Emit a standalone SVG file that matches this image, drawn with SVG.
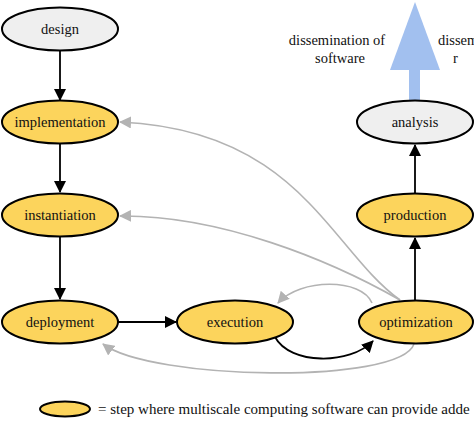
<svg xmlns="http://www.w3.org/2000/svg" width="474" height="422" viewBox="0 0 474 422" font-family="'Liberation Serif', 'Times New Roman', serif">
<defs>
<style>
.n{stroke:#000;stroke-width:2}
.y{fill:#fcd45c}
.g{fill:#efefef}
text{font-family:'Liberation Serif','Times New Roman',serif;font-size:14.5px;fill:#111}
.c{text-anchor:middle}
.k{fill:none;stroke:#000;stroke-width:1.8}
.s{fill:none;stroke:#b3b3b3;stroke-width:1.6}
</style>
<marker id="ab" viewBox="0 0 12 12" refX="11" refY="6" markerWidth="12" markerHeight="12" orient="auto" markerUnits="userSpaceOnUse">
<path d="M0,0 L12,6 L0,12 z" fill="#000"/>
</marker>
<marker id="ag" viewBox="0 0 12 12" refX="11" refY="6" markerWidth="12" markerHeight="12" orient="auto" markerUnits="userSpaceOnUse">
<path d="M0,0 L12,6 L0,12 z" fill="#b3b3b3"/>
</marker>
</defs>
<g id="connectors">
<line class="k" x1="60" y1="51" x2="60" y2="100" marker-end="url(#ab)"/>
<line class="k" x1="60" y1="144" x2="60" y2="192" marker-end="url(#ab)"/>
<line class="k" x1="60" y1="237" x2="60" y2="299" marker-end="url(#ab)"/>
<line class="k" x1="118" y1="322" x2="176" y2="322" marker-end="url(#ab)"/>
<path class="k" d="M275 337 C290 365 350 365 373 341" marker-end="url(#ab)"/>
<line class="k" x1="415" y1="301" x2="415" y2="238" marker-end="url(#ab)"/>
<line class="k" x1="415" y1="193" x2="415" y2="145" marker-end="url(#ab)"/>
<path class="s" d="M400 300 C330 250 300 130 120 122" marker-end="url(#ag)"/>
<path class="s" d="M400 300 C330 260 220 215 120 216" marker-end="url(#ag)"/>
<path class="s" d="M372 303 C362 278 300 278 278 303" marker-end="url(#ag)"/>
<path class="s" d="M414 344 C400 385 150 380 103 344" marker-end="url(#ag)"/>
</g>
<g id="dissemination-arrow">
<rect x="409" y="68" width="11" height="33" fill="#a2c0ef"/>
<polygon points="415,2 390,70 440,70" fill="#a2c0ef"/>
</g>
<g id="labels">
<text class="c" x="337" y="45">dissemination of</text>
<text class="c" x="340" y="63">software</text>
<text x="438" y="45">dissem</text>
<text x="453" y="63">r</text>
</g>
<g id="design"><ellipse class="n g" cx="60" cy="29" rx="58" ry="21.5"/><text class="c" x="60" y="34">design</text></g>
<g id="implementation"><ellipse class="n y" cx="60" cy="122" rx="58" ry="21.5"/><text class="c" x="60" y="127">implementation</text></g>
<g id="instantiation"><ellipse class="n y" cx="60" cy="215" rx="58" ry="21.5"/><text class="c" x="60" y="220">instantiation</text></g>
<g id="deployment"><ellipse class="n y" cx="60" cy="322" rx="58" ry="21.5"/><text class="c" x="60" y="327">deployment</text></g>
<g id="execution"><ellipse class="n y" cx="235" cy="322" rx="58" ry="21.5"/><text class="c" x="235" y="327">execution</text></g>
<g id="optimization"><ellipse class="n y" cx="416" cy="322" rx="57" ry="21.5"/><text class="c" x="416" y="327">optimization</text></g>
<g id="production"><ellipse class="n y" cx="415" cy="215" rx="58" ry="21.5"/><text class="c" x="415" y="220">production</text></g>
<g id="analysis"><ellipse class="n g" cx="415" cy="122" rx="58" ry="21.5"/><text class="c" x="415" y="127">analysis</text></g>
<g id="legend">
<ellipse class="n y" cx="65" cy="409" rx="25" ry="7.5"/>
<text x="98" y="414" style="font-size:15px">= step where multiscale computing software can provide adde</text>
</g>
</svg>
